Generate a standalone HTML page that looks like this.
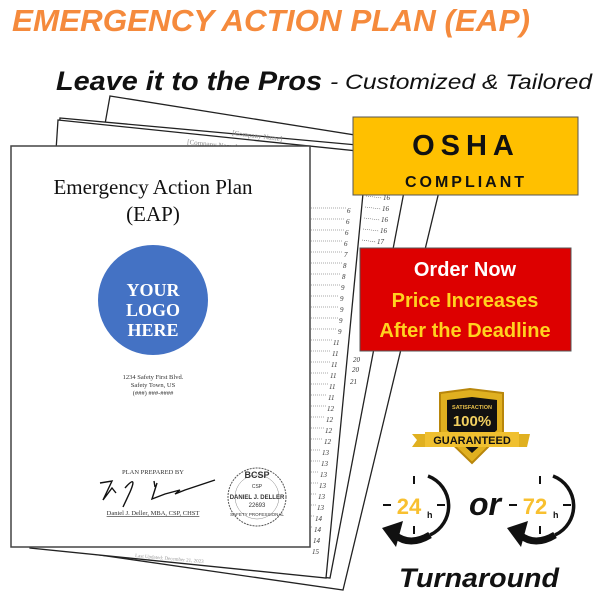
<!DOCTYPE html>
<html><head><meta charset="utf-8"><style>
html,body{margin:0;padding:0;background:#fff}
svg{display:block}
</style></head><body>
<svg width="600" height="600" viewBox="0 0 600 600" xmlns="http://www.w3.org/2000/svg">
<rect width="600" height="600" fill="#fff"/>
<text x="12" y="31" font-family="Liberation Sans, sans-serif" font-size="31" font-weight="bold" font-style="italic" fill="#f58a3c" textLength="518" lengthAdjust="spacingAndGlyphs">EMERGENCY ACTION PLAN (EAP)</text>
<text x="56" y="90" font-family="Liberation Sans, sans-serif" font-size="27" font-weight="bold" font-style="italic" fill="#111" textLength="266" lengthAdjust="spacingAndGlyphs">Leave it to the Pros</text>
<text x="330" y="89" font-family="Liberation Sans, sans-serif" font-size="21" font-style="italic" fill="#111" textLength="262" lengthAdjust="spacingAndGlyphs">- Customized &amp; Tailored</text>

<polygon points="110,96 449,150 343,590 30,545" fill="#fff" stroke="#222" stroke-width="1.3"/>
<polygon points="60,118 412,150 330,578 30,547" fill="#fff" stroke="#222" stroke-width="1.3"/>
<polygon points="58,120 367,152 326,578 30,548" fill="#fff" stroke="#222" stroke-width="1.3"/>
<text x="232" y="135" font-family="Liberation Serif, serif" font-size="7" fill="#888" transform="rotate(7 232 135)">[Company Name]</text>
<text x="187" y="144" font-family="Liberation Serif, serif" font-size="7" fill="#888" transform="rotate(6 187 144)">[Company Name]</text>
<g font-family="Liberation Serif, serif" font-size="7" font-style="italic" fill="#333">
<text x="383" y="200">16</text><text x="382" y="211">16</text><text x="381" y="222">16</text><text x="380" y="233">16</text><text x="377" y="244">17</text>
<text x="353" y="362">20</text><text x="352" y="372">20</text><text x="350" y="384">21</text>
</g>
<g stroke="#555" stroke-width="0.6" stroke-dasharray="1,1">
<line x1="366" y1="196" x2="382" y2="198"/><line x1="365" y1="207" x2="381" y2="209"/><line x1="364" y1="218" x2="380" y2="220"/><line x1="363" y1="229" x2="379" y2="231"/><line x1="362" y1="240" x2="376" y2="242"/>
</g>
<g font-family="Liberation Serif, serif" font-size="7" font-style="italic" fill="#333">
<text x="347" y="213">6</text><text x="346" y="224">6</text><text x="345" y="235">6</text><text x="344" y="246">6</text><text x="344" y="257">7</text><text x="343" y="268">8</text><text x="342" y="279">8</text><text x="341" y="290">9</text><text x="340" y="301">9</text><text x="340" y="312">9</text><text x="339" y="323">9</text><text x="338" y="334">9</text>
<text x="333" y="345">11</text><text x="332" y="356">11</text><text x="331" y="367">11</text><text x="330" y="378">11</text><text x="329" y="389">11</text><text x="328" y="400">11</text>
<text x="327" y="411">12</text><text x="326" y="422">12</text><text x="325" y="433">12</text><text x="324" y="444">12</text>
<text x="322" y="455">13</text><text x="321" y="466">13</text><text x="320" y="477">13</text><text x="319" y="488">13</text><text x="318" y="499">13</text><text x="317" y="510">13</text>
<text x="315" y="521">14</text><text x="314" y="532">14</text><text x="313" y="543">14</text><text x="312" y="554">15</text>
</g>
<g stroke="#555" stroke-width="0.6" stroke-dasharray="1,1">
<path d="M311 208h35M311 219h34M311 230h33M311 241h32M311 252h32M311 263h31M311 274h30M311 285h29M311 296h28M311 307h28M311 318h27M311 329h26M311 340h21M311 351h20M311 362h19M311 373h18M311 384h17M311 395h16M311 406h15M311 417h14M311 428h13M311 439h12M311 450h10M311 461h9M311 472h8M311 483h7M311 494h6M311 505h5M311 516h3M311 527h2"/>
</g>
<text x="135" y="557" font-family="Liberation Serif, serif" font-size="5" fill="#999" transform="rotate(5 135 557)">Last Updated: December 21, 2023</text>

<rect x="11" y="146" width="299" height="401" fill="#fff" stroke="#444" stroke-width="1.5"/>
<g font-family="Liberation Serif, serif" text-anchor="middle" fill="#111">
<text x="153" y="194" font-size="21">Emergency Action Plan</text>
<text x="153" y="221" font-size="21">(EAP)</text>
</g>
<circle cx="153" cy="300" r="55" fill="#4472c4"/>
<g font-family="Liberation Serif, serif" font-weight="bold" font-size="18" fill="#fff" text-anchor="middle">
<text x="153" y="296">YOUR</text><text x="153" y="316">LOGO</text><text x="153" y="336">HERE</text>
</g>
<g font-family="Liberation Serif, serif" font-size="6.5" fill="#333" text-anchor="middle">
<text x="153" y="379">1234 Safety First Blvd.</text><text x="153" y="387">Safety Town, US</text><text x="153" y="395">(###) ###-####</text>
<text x="153" y="474">PLAN PREPARED BY</text>
<text x="153" y="515" text-decoration="underline">Daniel J. Deller, MBA, CSP, CHST</text>
</g>
<path d="M100 483 L112 481 L103 500 L112 488 L116 493 M125 488 C132 480 136 478 130 492 L123 507 M154 481 L155 487 M157 483 L152 499 L165 494 L180 490 L175 494 L185 490 L215 480" fill="none" stroke="#111" stroke-width="1.4"/>
<circle cx="257" cy="497" r="29" fill="#fff" stroke="#555" stroke-width="1" stroke-dasharray="2,1"/>
<circle cx="257" cy="497" r="22" fill="none" stroke="#888" stroke-width="0.5"/>
<g font-family="Liberation Sans, sans-serif" text-anchor="middle" fill="#333">
<text x="257" y="478" font-size="9" font-weight="bold">BCSP</text>
<text x="257" y="488" font-size="5">CSP</text>
<text x="257" y="499" font-size="6" font-weight="bold">DANIEL J. DELLER</text>
<text x="257" y="507" font-size="6">22693</text>
<text x="257" y="516" font-size="4.5">SAFETY PROFESSIONAL</text>
</g>

<rect x="353" y="117" width="225" height="78" fill="#ffc000" stroke="#555" stroke-width="1"/>
<text x="466" y="155" text-anchor="middle" font-family="Liberation Sans, sans-serif" font-weight="bold" font-size="29" letter-spacing="6" fill="#111">OSHA</text>
<text x="466" y="187" text-anchor="middle" font-family="Liberation Sans, sans-serif" font-weight="bold" font-size="16" letter-spacing="3" fill="#111">COMPLIANT</text>

<rect x="360" y="248" width="211" height="103" fill="#dd0000" stroke="#555" stroke-width="1"/>
<g font-family="Liberation Sans, sans-serif" font-weight="bold" font-size="20" text-anchor="middle">
<text x="465" y="276" fill="#fff">Order Now</text>
<text x="465" y="307" fill="#ffd21f">Price Increases</text>
<text x="465" y="337" fill="#ffd21f">After the Deadline</text>
</g>

<polygon points="440,393 470,389 503,393 503,432 472,463 440,432" fill="#e0b020" stroke="#b8860b" stroke-width="2"/>
<polygon points="447,400 472,397 497,400 497,430 472,453 447,430" fill="#111"/>
<text x="472" y="409" text-anchor="middle" font-family="Liberation Sans, sans-serif" font-weight="bold" font-size="5.5" fill="#e8c04a">SATISFACTION</text>
<text x="472" y="426" text-anchor="middle" font-family="Liberation Sans, sans-serif" font-weight="bold" font-size="15" fill="#f2d060">100%</text>
<polygon points="412,434 530,434 527,447 412,447 417,440" fill="#e0b020"/>
<rect x="425" y="432" width="94" height="15" fill="#f0c030"/>
<text x="472" y="444" text-anchor="middle" font-family="Liberation Sans, sans-serif" font-weight="bold" font-size="11" fill="#111">GUARANTEED</text>

<g fill="none" stroke="#111">
<path d="M428 476 A32 32 0 0 1 430 535" stroke-width="3.5"/>
<path d="M430 535 Q410 547 395 535" stroke-width="7"/>
</g>
<polygon points="382,528 403,521 396,547" fill="#111"/>
<g stroke="#111" stroke-width="2"><line x1="414" y1="476" x2="414" y2="484"/><line x1="414" y1="526" x2="414" y2="534"/><line x1="383" y1="505" x2="391" y2="505"/><line x1="437" y1="505" x2="445" y2="505"/></g>
<text x="409" y="514" text-anchor="middle" font-family="Liberation Sans, sans-serif" font-weight="bold" font-size="22" fill="#f8c030">24</text>
<text x="427" y="518" font-family="Liberation Sans, sans-serif" font-weight="bold" font-size="9" fill="#111">h</text>

<g fill="none" stroke="#111">
<path d="M553 476 A32 32 0 0 1 555 535" stroke-width="3.5"/>
<path d="M555 535 Q535 547 520 535" stroke-width="7"/>
</g>
<polygon points="507,528 528,521 521,547" fill="#111"/>
<g stroke="#111" stroke-width="2"><line x1="540" y1="476" x2="540" y2="484"/><line x1="540" y1="526" x2="540" y2="534"/><line x1="509" y1="505" x2="517" y2="505"/><line x1="563" y1="505" x2="571" y2="505"/></g>
<text x="535" y="514" text-anchor="middle" font-family="Liberation Sans, sans-serif" font-weight="bold" font-size="22" fill="#f8c030">72</text>
<text x="553" y="518" font-family="Liberation Sans, sans-serif" font-weight="bold" font-size="9" fill="#111">h</text>

<text x="485" y="515" text-anchor="middle" font-family="Liberation Sans, sans-serif" font-weight="bold" font-style="italic" font-size="32" fill="#111">or</text>
<text x="479" y="587" text-anchor="middle" font-family="Liberation Sans, sans-serif" font-weight="bold" font-style="italic" font-size="27" fill="#111" textLength="160" lengthAdjust="spacingAndGlyphs">Turnaround</text>
</svg>
</body></html>
